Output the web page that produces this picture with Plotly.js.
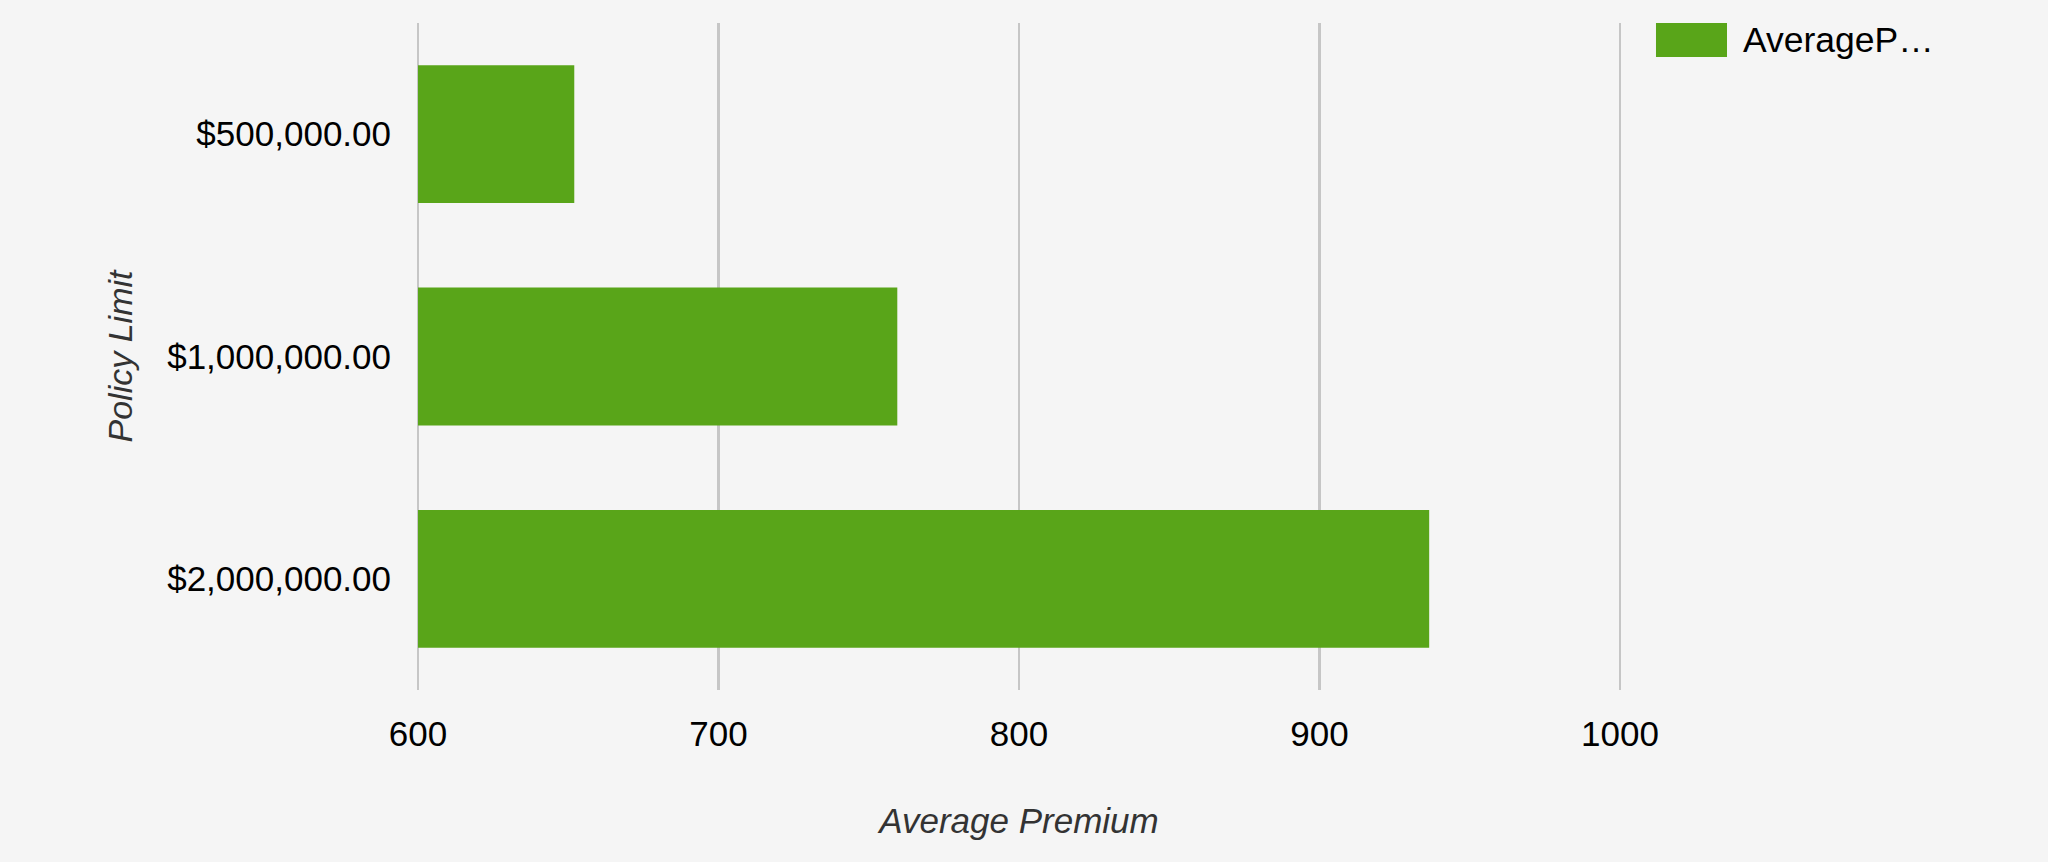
<!DOCTYPE html>
<html>
<head>
<meta charset="utf-8">
<script src="https://cdn.plot.ly/plotly-3.0.1.min.js"></script>
<style>
  html, body { margin: 0; padding: 0; background: #f5f5f5; }
  #chart { width: 2048px; height: 862px; }
</style>
</head>
<body>
<div id="chart"></div>
<script>
// policy limits, top to bottom
var policyLimits = ["$500,000.00", "$1,000,000.00", "$2,000,000.00"];
var averagePremium = [652, 759.5, 936.5];
var xTicks = [600, 700, 800, 900, 1000];
var seriesName = "AverageP\u2026";
var axisStart = 600;

var barColor = "#59a519";
var fontFamily = "Liberation Sans, Arial, Helvetica, sans-serif";

var trace = {
    type: "bar",
    orientation: "h",
    y: policyLimits,
    // bars start at 600, so length is value minus base
    x: averagePremium.map(function (v) { return v - axisStart; }),
    base: axisStart,
    name: seriesName,
    marker: { color: barColor },
};

var layout = {
    width: 2048,
    height: 862,
    paper_bgcolor: "#f5f5f5",
    plot_bgcolor: "#f5f5f5",
    margin: { l: 412, r: 422, t: 23, b: 172, pad: 0 },
    showlegend: false,
    bargap: 0.38,
    font: { family: fontFamily, size: 35, color: "#000" },
    xaxis: {
        // padded by 2 so plotly draws the 600 and 1000 gridlines
        range: [598, 1002],
        tickvals: xTicks,
        ticktext: xTicks.map(String),
        showgrid: true,
        gridcolor: "#c6c6c6",
        gridwidth: 2.6,
        zeroline: false,
        showline: false,
        ticks: "",
        ticklabelstandoff: 20,
        tickfont: { size: 35, color: "#000" },
        title: {
            text: "Average Premium",
            font: { size: 35, color: "#333", style: "italic" },
            standoff: 56,
        },
        automargin: false,
    },
    yaxis: {
        type: "category",
        categoryorder: "array",
        categoryarray: policyLimits.slice().reverse(),
        showgrid: false,
        zeroline: false,
        showline: false,
        ticks: "",
        ticklabelstandoff: 20,
        tickfont: { size: 35, color: "#000" },
        title: {
            text: "Policy Limit",
            font: { size: 34, color: "#333", style: "italic" },
            standoff: 24,
        },
        automargin: false,
    },
    shapes: [
        {
            type: "rect",
            xref: "paper",
            yref: "paper",
            x0: 1.0247,
            x1: 1.0832,
            y0: 0.949,
            y1: 1.0,
            fillcolor: barColor,
            line: { width: 0 },
        },
    ],
    annotations: [
        {
            xref: "paper",
            yref: "paper",
            x: 1.0947,
            y: 0.9745,
            xanchor: "left",
            yanchor: "middle",
            showarrow: false,
            text: seriesName,
            font: { size: 35.5, color: "#000" },
        },
    ],
};

Plotly.newPlot("chart", [trace], layout, { displayModeBar: false, staticPlot: true });
</script>
</body>
</html>
